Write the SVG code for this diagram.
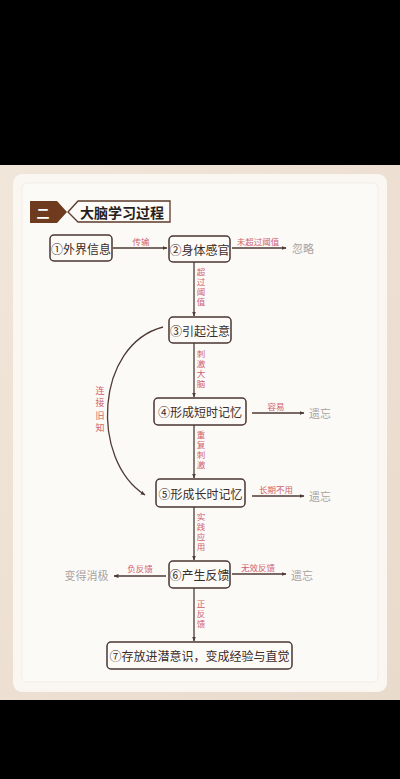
<svg xmlns="http://www.w3.org/2000/svg" width="400" height="779" viewBox="0 0 400 779">
<defs>
<linearGradient id="bg" x1="0" y1="0" x2="1" y2="1">
<stop offset="0" stop-color="#f1e6da"/>
<stop offset="0.5" stop-color="#ede0d2"/>
<stop offset="1" stop-color="#e9dbcc"/>
</linearGradient>
<marker id="ah" viewBox="0 0 10 10" refX="9" refY="5" markerWidth="5" markerHeight="5" orient="auto" markerUnits="userSpaceOnUse">
<path d="M0,1 L10,5 L0,9 Z" fill="#4e3a36"/>
</marker>
<style>
.node rect{fill:#fdfbf8;stroke:#4a3632;stroke-width:1.5}
.nt{font-family:"Noto Sans CJK SC","Noto Sans",sans-serif;font-size:12px;fill:#3a2c29;text-anchor:middle;dominant-baseline:central}
.lb{font-family:"Noto Sans CJK SC",sans-serif;font-size:8.5px;fill:#d0606c;text-anchor:middle;dominant-baseline:central}
.vl{font-family:"Noto Sans CJK SC",sans-serif;font-size:8.5px;fill:#d0606c;text-anchor:middle;writing-mode:tb;letter-spacing:1.5px}
.vw{letter-spacing:3.5px;font-size:9px}
.out{font-family:"Noto Sans CJK SC",sans-serif;font-size:11px;fill:#aaa29f;text-anchor:middle;dominant-baseline:central}
.ln{stroke:#4e3a36;stroke-width:1.3;fill:none;marker-end:url(#ah)}
</style>
</defs>
<rect x="0" y="0" width="400" height="779" fill="#000"/>
<rect x="0" y="165" width="400" height="535" fill="url(#bg)"/>
<rect x="13" y="174" width="374" height="518" rx="9" fill="#faf6f1"/>
<rect x="22" y="183" width="356" height="499" rx="5" fill="#fcfaf7" stroke="#f1ebe4" stroke-width="1"/>

<g id="title">
<path d="M30,201 H57 L67,212 L57,223 H30 Z" fill="#6e3b1e"/>
<text x="43" y="212" font-family="Noto Sans CJK SC,sans-serif" font-size="13" font-weight="bold" fill="#fff" text-anchor="middle" dominant-baseline="central">二</text>
<path d="M68,212 L78,201 H170 V222 H78 Z" fill="#fdfbf8" stroke="#5a3a2a" stroke-width="1.3"/>
<text x="122" y="212" font-family="Noto Sans CJK SC,sans-serif" font-size="14" font-weight="bold" fill="#2a1e1b" text-anchor="middle" dominant-baseline="central">大脑学习过程</text>
</g>

<g id="connectors">
<line class="ln" x1="113" y1="248" x2="167" y2="248"/>
<text class="lb" x="141" y="241">传输</text>
<line class="ln" x1="232" y1="248" x2="286" y2="248"/>
<text class="lb" x="258" y="241">未超过阈值</text>
<line class="ln" x1="194" y1="262" x2="194" y2="316"/>
<text class="vl" x="201" y="288">超过阈值</text>
<line class="ln" x1="194" y1="343" x2="194" y2="397"/>
<text class="vl" x="201" y="370">刺激大脑</text>
<line class="ln" x1="252" y1="413" x2="304" y2="413"/>
<text class="lb" x="276" y="406">容易</text>
<line class="ln" x1="194" y1="425" x2="194" y2="478"/>
<text class="vl" x="201" y="451">重复刺激</text>
<line class="ln" x1="252" y1="496" x2="304" y2="496"/>
<text class="lb" x="276" y="489">长期不用</text>
<line class="ln" x1="194" y1="507" x2="194" y2="560"/>
<text class="vl" x="201" y="533">实践应用</text>
<line class="ln" x1="166" y1="576" x2="114" y2="576"/>
<text class="lb" x="140" y="568">负反馈</text>
<line class="ln" x1="232" y1="574" x2="286" y2="574"/>
<text class="lb" x="258" y="567">无效反馈</text>
<line class="ln" x1="194" y1="588" x2="194" y2="641"/>
<text class="vl" x="201" y="615">正反馈</text>
<path class="ln" d="M163,327 C95,345 90,460 145,495"/>
<text class="vl vw" x="100" y="411">连接旧知</text>
</g>

<g id="outcomes">
<text class="out" x="303" y="248">忽略</text>
<text class="out" x="320" y="413">遗忘</text>
<text class="out" x="320" y="496">遗忘</text>
<text class="out" x="86.5" y="575">变得消极</text>
<text class="out" x="302" y="575">遗忘</text>
</g>

<g id="n1" class="node"><rect x="50" y="235" width="62" height="26" rx="4"/><text class="nt" x="81" y="248">①外界信息</text></g>
<g id="n2" class="node"><rect x="169" y="236" width="61" height="26" rx="4"/><text class="nt" x="199.5" y="249">②身体感官</text></g>
<g id="n3" class="node"><rect x="169" y="317" width="62" height="26" rx="4"/><text class="nt" x="200" y="330">③引起注意</text></g>
<g id="n4" class="node"><rect x="154" y="398" width="92" height="27" rx="4"/><text class="nt" x="200" y="411.5">④形成短时记忆</text></g>
<g id="n5" class="node"><rect x="156" y="479" width="89" height="28" rx="4"/><text class="nt" x="200.5" y="493">⑤形成长时记忆</text></g>
<g id="n6" class="node"><rect x="169" y="561" width="61" height="27" rx="4"/><text class="nt" x="199.5" y="574.5">⑥产生反馈</text></g>
<g id="n7" class="node"><rect x="107" y="642" width="185" height="27" rx="4"/><text class="nt" x="199.5" y="655.5">⑦存放进潜意识，变成经验与直觉</text></g>
</svg>
